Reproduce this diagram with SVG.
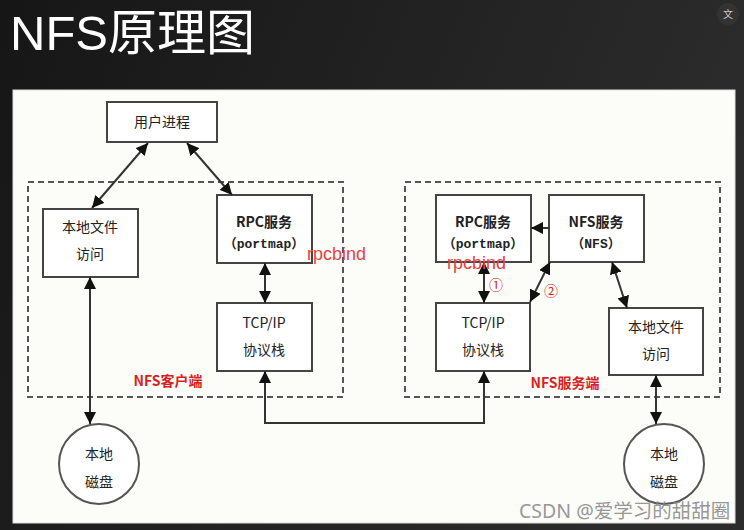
<svg xmlns="http://www.w3.org/2000/svg" width="744" height="530" viewBox="0 0 744 530">
<defs>
<linearGradient id="bg" x1="0" y1="0" x2="1" y2="0.3">
<stop offset="0" stop-color="#161616"/><stop offset="1" stop-color="#2c2c2c"/>
</linearGradient>
<marker id="ah" viewBox="0 0 10 10" refX="10" refY="5" markerWidth="6" markerHeight="6" orient="auto-start-reverse" markerUnits="strokeWidth">
<path d="M0,0 L10,5 L0,10 z" fill="#111"/>
</marker>
<style>
.box{fill:#fff;stroke:#444;stroke-width:2}
.dash{fill:none;stroke:#555;stroke-width:2;stroke-dasharray:6,4}
.edge{fill:none;stroke:#333;stroke-width:2}
.t{font-family:"Noto Sans CJK SC","Noto Sans",sans-serif;font-size:14px;fill:#222;text-anchor:middle}
.b{font-weight:bold}
.m{font-family:"Liberation Mono","Noto Sans CJK SC",monospace;font-size:13px;font-weight:bold;fill:#222;text-anchor:middle}
.red{font-family:"Liberation Sans","Noto Sans",sans-serif;font-size:18px;fill:#e8413e}
.rb{font-family:"Noto Sans CJK SC",sans-serif;font-size:14px;font-weight:bold;fill:#d91f1f;text-anchor:middle}
.num{font-family:"Noto Sans CJK SC",sans-serif;font-size:14px;fill:#d91f1f;text-anchor:middle}
</style>
</defs>
<rect x="0" y="0" width="744" height="530" fill="url(#bg)"/>
<text x="10" y="50" font-family="'Liberation Sans','Noto Sans CJK SC',sans-serif" font-size="49" fill="#fff">NFS原理图</text>
<circle cx="728" cy="14" r="11" fill="#333"/>
<text x="728" y="18" font-family="'Noto Sans CJK SC',sans-serif" font-size="10" fill="#ccc" text-anchor="middle">文</text>
<rect x="13" y="90" width="722" height="433" fill="#fcfcf9" stroke="#ddd" stroke-width="1"/>

<rect class="dash" x="28" y="182" width="315" height="215"/>
<rect class="dash" x="405" y="182" width="315" height="215"/>

<g id="user">
<rect class="box" x="107" y="102" width="110" height="40"/>
<text class="t" x="162" y="127">用户进程</text>
</g>
<g id="c_local">
<rect class="box" x="43" y="209" width="95" height="68"/>
<text class="t" x="90" y="232">本地文件</text>
<text class="t" x="90" y="259">访问</text>
</g>
<g id="c_rpc">
<rect class="box" x="217" y="195" width="95" height="68"/>
<text class="t b" x="264" y="227">RPC服务</text>
<text class="m" x="264" y="248">（portmap）</text>
</g>
<g id="c_tcp">
<rect class="box" x="217" y="303" width="95" height="68"/>
<text class="t" x="264" y="328">TCP/IP</text>
<text class="t" x="264" y="355">协议栈</text>
</g>
<g id="c_disk">
<circle cx="99" cy="464" r="40" fill="#fff" stroke="#555" stroke-width="2"/>
<text class="t" x="99" y="459">本地</text>
<text class="t" x="99" y="487">磁盘</text>
</g>
<g id="s_rpc">
<rect class="box" x="436" y="195" width="95" height="67"/>
<text class="t b" x="483" y="227">RPC服务</text>
<text class="m" x="483" y="248">（portmap）</text>
</g>
<g id="s_nfs">
<rect class="box" x="549" y="195" width="95" height="67"/>
<text class="t b" x="596" y="227">NFS服务</text>
<text class="m" x="596" y="248">（NFS）</text>
</g>
<g id="s_tcp">
<rect class="box" x="436" y="303" width="94" height="68"/>
<text class="t" x="483" y="328">TCP/IP</text>
<text class="t" x="483" y="355">协议栈</text>
</g>
<g id="s_local">
<rect class="box" x="609" y="308" width="94" height="67"/>
<text class="t" x="656" y="332">本地文件</text>
<text class="t" x="656" y="359">访问</text>
</g>
<g id="s_disk">
<circle cx="664" cy="464" r="40" fill="#fff" stroke="#555" stroke-width="2"/>
<text class="t" x="664" y="459">本地</text>
<text class="t" x="664" y="487">磁盘</text>
</g>

<g id="edges">
<line class="edge" x1="148" y1="143" x2="92" y2="208" marker-start="url(#ah)" marker-end="url(#ah)"/>
<line class="edge" x1="187" y1="143" x2="232" y2="195" marker-start="url(#ah)" marker-end="url(#ah)"/>
<line class="edge" x1="265" y1="263" x2="265" y2="303" marker-start="url(#ah)" marker-end="url(#ah)"/>
<line class="edge" x1="90" y1="277" x2="90" y2="424" marker-start="url(#ah)" marker-end="url(#ah)"/>
<path class="edge" d="M265,371 V423 H484 V371" marker-start="url(#ah)" marker-end="url(#ah)"/>
<line class="edge" x1="549" y1="228" x2="531" y2="228" marker-end="url(#ah)"/>
<line class="edge" x1="484" y1="262" x2="484" y2="303" marker-start="url(#ah)" marker-end="url(#ah)"/>
<line class="edge" x1="530" y1="302" x2="550" y2="262" marker-start="url(#ah)" marker-end="url(#ah)"/>
<line class="edge" x1="612" y1="262" x2="627" y2="308" marker-start="url(#ah)" marker-end="url(#ah)"/>
<line class="edge" x1="656" y1="375" x2="656" y2="424" marker-start="url(#ah)" marker-end="url(#ah)"/>
</g>

<text class="red" x="307" y="260">rpcbind</text>
<text class="red" x="447" y="269">rpcbind</text>
<text class="num" x="496" y="290">①</text>
<text class="num" x="551" y="296">②</text>
<text class="rb" x="168" y="386">NFS客户端</text>
<text class="rb" x="565" y="388">NFS服务端</text>
<text x="519" y="518" font-family="'Noto Sans','Noto Sans CJK SC',sans-serif" font-size="19.5" fill="#8a8a8a" fill-opacity="0.9">CSDN @爱学习的甜甜圈</text>
</svg>
